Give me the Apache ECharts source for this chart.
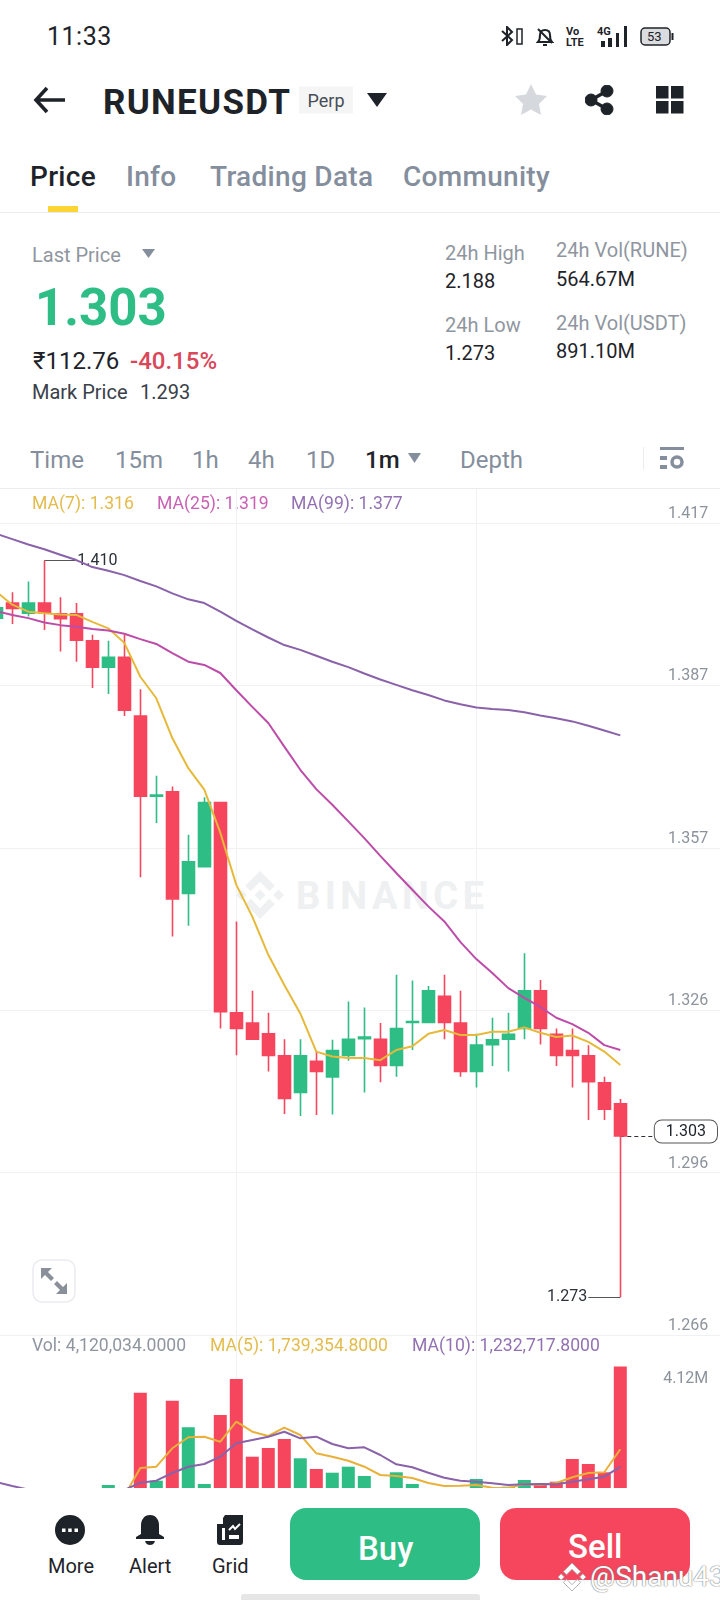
<!DOCTYPE html>
<html>
<head>
<meta charset="utf-8">
<title>RUNEUSDT Perp</title>
<script src="https://cdn.jsdelivr.net/npm/echarts@6/dist/echarts.min.js"></script>
<style>
    html, body { margin: 0; padding: 0; background: #fff; }
    #page { position: relative; width: 720px; height: 1600px; overflow: hidden; background: #fff; font-family: Roboto, "Noto Sans", sans-serif; }
    #chart { position: absolute; left: 0; top: 488px; width: 720px; height: 1000px; z-index: 1; }
    .t { position: absolute; white-space: nowrap; line-height: 1; transform: translateY(-50%); z-index: 3; }
    .grey { color: #8F96A0; }
    .dark { color: #1E2329; }
    .tab { color: #848E9C; font-size: 28px; font-weight: 500; top: 177px; letter-spacing: .3px; }
    .iv { color: #848E9C; font-size: 24px; top: 460px; }
    .stat { font-size: 20px; }
    .foot { font-size: 20px; color: #1E2329; top: 1566px; }
    .btn { position: absolute; top: 1508px; width: 190px; height: 72px; border-radius: 16px; z-index: 3; }
    svg { position: absolute; z-index: 3; }
    .rule { position: absolute; background: #EAECEF; z-index: 3; }
</style>
</head>
<body>
<div id="page">
    <!-- status bar -->
    <span class="t dark" style="left:47px;top:36px;font-size:25px;letter-spacing:.5px">11:33</span>
    <svg style="left:500px;top:26px" width="24" height="20" viewBox="0 0 24 20" fill="none" stroke="#1E2329" stroke-width="2">
        <path d="M2 5l10 9-5 5V1l5 5-10 9"/><rect x="17" y="3" width="5" height="15" stroke-width="1.5"/>
    </svg>
    <svg style="left:536px;top:27px" width="18" height="20" viewBox="0 0 18 20" fill="none" stroke="#1E2329" stroke-width="2">
        <path d="M2 15c2-2 2-4 2-7s2-5 5-5 5 2 5 5 0 5 2 7zM7 18h4M2 2l14 14"/>
    </svg>
    <span class="t dark" style="left:566px;top:31px;font-size:11px;font-weight:700">Vo</span>
    <span class="t dark" style="left:566px;top:42px;font-size:11px;font-weight:700">LTE</span>
    <span class="t dark" style="left:597px;top:31px;font-size:11px;font-weight:700">4G</span>
    <svg style="left:590px;top:26px" width="40" height="21" viewBox="0 0 40 21" fill="#1E2329">
        <rect x="11" y="15" width="4" height="6"/><rect x="18" y="12" width="4" height="9"/><rect x="26" y="7" width="3" height="14"/><rect x="34" y="0" width="3" height="21"/>
    </svg>
    <svg style="left:640px;top:27px" width="34" height="19" viewBox="0 0 34 19">
        <rect x="1" y="1" width="29" height="17" rx="4" fill="#DADCDF" stroke="#1E2329" stroke-width="1.5"/><rect x="31.5" y="6" width="2" height="7" fill="#1E2329"/>
    </svg>
    <span class="t dark" style="left:647px;top:36px;font-size:13px">53</span>

    <!-- title row -->
    <svg style="left:33px;top:86px" width="34" height="28" viewBox="0 0 34 28" fill="none" stroke="#1E2329" stroke-width="3.6">
        <path d="M32 14H3M14 2L3 14l11 12"/>
    </svg>
    <span class="t dark" style="left:103px;top:102px;font-size:35px;font-weight:700;letter-spacing:1.3px">RUNEUSDT</span>
    <span class="t" style="left:299px;top:100px;width:54px;height:27px;background:#F5F5F5;color:#474D57;font-size:18px;line-height:27px;text-align:center">Perp</span>
    <svg style="left:367px;top:93px" width="20" height="14" viewBox="0 0 20 14" fill="#1E2329"><path d="M0 0h20L10 14z"/></svg>
    <svg style="left:515px;top:84px" width="32" height="31" viewBox="0 0 32 31" fill="#D5D9DE"><path d="M16 0l5 10.500 11 1.500-8 8 2 11-10-5.500L6 31l2-11-8-8 11-1.500z"/></svg>
    <svg style="left:585px;top:85px" width="29" height="30" viewBox="0 0 29 30" fill="#1E2329" stroke="#1E2329">
        <circle cx="22" cy="6" r="6"/><circle cx="22" cy="24" r="6"/><circle cx="6" cy="15" r="6"/><path d="M22 6L6 15l16 9" fill="none" stroke-width="3.500"/>
    </svg>
    <svg style="left:656px;top:86px" width="28" height="28" viewBox="0 0 28 28" fill="#1E2329">
        <rect width="12.500" height="12.500"/><rect x="15" width="12.500" height="12.500"/><rect y="15" width="12.500" height="12.500"/><rect x="15" y="15" width="12.500" height="12.500"/>
    </svg>

    <!-- tabs -->
    <span class="t tab" style="left:30px;color:#1E2329">Price</span>
    <span class="t tab" style="left:126px">Info</span>
    <span class="t tab" style="left:210px">Trading Data</span>
    <span class="t tab" style="left:403px">Community</span>
    <div class="rule" style="left:48px;top:206px;width:30px;height:6px;background:#FCD535"></div>
    <div class="rule" style="left:0;top:212px;width:720px;height:1px"></div>

    <!-- price block -->
    <span class="t grey" style="left:32px;top:255px;font-size:20px">Last Price</span>
    <svg style="left:142px;top:249px" width="13" height="9" viewBox="0 0 13 9" fill="#848E9C"><path d="M0 0h13L6.500 9z"/></svg>
    <span class="t" style="left:35px;top:307px;font-size:51px;font-weight:700;color:#2EBD85">1.303</span>
    <span class="t dark" style="left:33px;top:361px;font-size:24px">₹112.76</span>
    <span class="t" style="left:130px;top:361px;font-size:24px;font-weight:500;color:#D9475A">-40.15%</span>
    <span class="t" style="left:32px;top:392px;font-size:20px;color:#3A4049">Mark Price</span>
    <span class="t" style="left:140px;top:392px;font-size:20px;color:#3A4049">1.293</span>

    <span class="t grey stat" style="left:445px;top:253px">24h High</span>
    <span class="t dark stat" style="left:445px;top:281px">2.188</span>
    <span class="t grey stat" style="left:445px;top:325px">24h Low</span>
    <span class="t dark stat" style="left:445px;top:353px">1.273</span>
    <span class="t grey stat" style="left:556px;top:250px">24h Vol(RUNE)</span>
    <span class="t dark stat" style="left:556px;top:279px">564.67M</span>
    <span class="t grey stat" style="left:556px;top:323px">24h Vol(USDT)</span>
    <span class="t dark stat" style="left:556px;top:351px">891.10M</span>

    <!-- interval row -->
    <span class="t iv" style="left:30px">Time</span>
    <span class="t iv" style="left:115px">15m</span>
    <span class="t iv" style="left:192px">1h</span>
    <span class="t iv" style="left:248px">4h</span>
    <span class="t iv" style="left:306px">1D</span>
    <span class="t iv" style="left:365px;color:#1E2329;font-weight:500">1m</span>
    <svg style="left:408px;top:453px" width="13" height="10" viewBox="0 0 13 10" fill="#848E9C"><path d="M0 0h13L6.500 10z"/></svg>
    <span class="t iv" style="left:460px">Depth</span>
    <div class="rule" style="left:643px;top:447px;width:1px;height:23px"></div>
    <svg style="left:660px;top:447px" width="24" height="24" viewBox="0 0 24 24" fill="#848E9C">
        <rect width="24" height="3"/><rect y="9" width="7" height="4"/><rect y="18" width="7" height="4"/>
        <circle cx="17" cy="15" r="5" fill="none" stroke="#848E9C" stroke-width="3.500"/>
    </svg>
    <div class="rule" style="left:0;top:488px;width:720px;height:1px"></div>

    <!-- watermark sits under the transparent chart canvas -->
    <svg style="left:236px;top:871px;z-index:0" width="48" height="48" viewBox="0 0 126.610 126.610" fill="#EEF0F1">
        <path d="M38.730 53.200l24.590-24.580 24.600 24.600 14.300-14.310L63.320 0 24.430 38.900z"/>
        <path d="M0 63.310l14.300-14.310 14.310 14.310-14.310 14.300z"/>
        <path d="M38.730 73.410L63.320 98l24.600-24.600 14.310 14.290-38.900 38.910L24.430 87.700z"/>
        <path d="M98 63.310l14.300-14.310 14.310 14.310-14.310 14.300z"/>
        <path d="M77.830 63.300L63.320 48.780 48.810 63.280l14.510 14.530z"/>
    </svg>
    <span class="t" style="left:296px;top:896px;z-index:0;font-size:38px;font-weight:700;letter-spacing:4.500px;color:#EEF0F1">BINANCE</span>

    <div id="chart"></div>

    <svg style="left:32px;top:1259px" width="44" height="44" viewBox="0 0 44 44" fill="#8A9099">
        <rect x="1" y="1" width="42" height="42" rx="9" fill="#fff" stroke="#EAECEF" stroke-width="1.500"/>
        <path d="M9 9h11l-4 4 6 6-3 3-6-6-4 4z"/><path d="M35 35H24l4-4-6-6 3-3 6 6 4-4z"/>
    </svg>

    <!-- footer -->
    <svg style="left:55px;top:1515px" width="30" height="30" viewBox="0 0 30 30">
        <circle cx="15" cy="15" r="15" fill="#1E2329"/><rect x="7" y="13.500" width="3.500" height="3.500" fill="#fff"/><rect x="13.200" y="13.500" width="3.500" height="3.500" fill="#fff"/><rect x="19.500" y="13.500" width="3.500" height="3.500" fill="#fff"/>
    </svg>
    <span class="t foot" style="left:48px">More</span>
    <svg style="left:136px;top:1515px" width="28" height="30" viewBox="0 0 28 30" fill="#1E2329">
        <path d="M14 0c6 0 9 5 9 10v9l5 3v2H0v-2l5-3v-9C5 5 8 0 14 0z"/><path d="M9 26h10c-1 3-3 4-5 4s-4-1-5-4z"/>
    </svg>
    <span class="t foot" style="left:129px">Alert</span>
    <svg style="left:217px;top:1515px" width="26" height="30" viewBox="0 0 26 30">
        <path d="M8 0h18v27c0 2-1 3-3 3H3c-2 0-3-1-3-3V9h6V3z" fill="#1E2329"/>
        <path d="M12 15l4-4 2 3 5-5" fill="none" stroke="#fff" stroke-width="2"/><rect x="5" y="13" width="3" height="12" fill="#fff"/><rect x="12" y="20" width="10" height="4" fill="#fff"/>
    </svg>
    <span class="t foot" style="left:212px">Grid</span>
    <div class="btn" style="left:290px;background:#2EBD85"></div>
    <div class="btn" style="left:500px;background:#F6465D"></div>
    <span class="t" style="left:358px;top:1548px;font-size:33px;font-weight:500;color:#fff;z-index:4">Buy</span>
    <span class="t" style="left:568px;top:1546px;font-size:33px;font-weight:500;color:#fff;z-index:4">Sell</span>
    <div class="rule" style="left:241px;top:1594px;width:239px;height:6px;background:#E6E6E6;border-radius:3px 3px 0 0"></div>
    <svg style="left:558px;top:1562px;z-index:4" width="28" height="30" viewBox="0 0 126.610 126.610" fill="#fff" stroke="#A9A9A9" stroke-width="4">
        <path d="M38.730 53.200l24.590-24.580 24.600 24.600 14.300-14.310L63.320 0 24.430 38.900z"/>
        <path d="M0 63.310l14.300-14.310 14.310 14.310-14.310 14.300z"/>
        <path d="M38.730 73.410L63.320 98l24.600-24.600 14.310 14.290-38.900 38.910L24.430 87.700z"/>
        <path d="M98 63.310l14.300-14.310 14.310 14.310-14.310 14.300z"/>
    </svg>
    <span class="t" style="left:590px;top:1577px;font-size:28px;color:#fff;z-index:4;text-shadow:0 0 1.500px #777, 0 0 1px #777">@Shanu43</span>
</div>

<script>
// ===== 价格数据 (1m K线) =====
const openPrices = [1.3993, 1.4021, 1.4002, 1.4021, 1.4001, 1.4001, 1.3951, 1.3902, 1.3920, 1.3811,
    1.3662, 1.3670, 1.3481, 1.3531, 1.3650, 1.3259, 1.3240, 1.3220, 1.3179, 1.3111,
    1.3169, 1.3140, 1.3180, 1.3211, 1.3210, 1.3161, 1.3241, 1.3241, 1.3290, 1.3240,
    1.3150, 1.3200, 1.3210, 1.3230, 1.3300, 1.3219, 1.3189, 1.3179, 1.3129, 1.3090];
const closePrices = [1.4012, 1.4011, 1.4021, 1.4003, 1.3992, 1.3952, 1.3902, 1.3920, 1.3822, 1.3662,
    1.3664, 1.3471, 1.3540, 1.3650, 1.3261, 1.3230, 1.3210, 1.3180, 1.3100, 1.3179,
    1.3150, 1.3189, 1.3210, 1.3214, 1.3161, 1.3230, 1.3243, 1.3300, 1.3241, 1.3150,
    1.3199, 1.3209, 1.3219, 1.3300, 1.3230, 1.3180, 1.3180, 1.3131, 1.3080, 1.3030];
const lowPrices = [1.3986, 1.3982, 1.3996, 1.3971, 1.3931, 1.3912, 1.3863, 1.3852, 1.3811, 1.3511,
    1.3612, 1.3401, 1.3421, 1.3531, 1.3230, 1.3180, 1.3210, 1.3150, 1.3071, 1.3067,
    1.3069, 1.3070, 1.3170, 1.3111, 1.3130, 1.3140, 1.3190, 1.3241, 1.3210, 1.3140,
    1.3120, 1.3160, 1.3150, 1.3210, 1.3200, 1.3160, 1.3120, 1.3060, 1.3060, 1.2730];
const highPrices = [1.4036, 1.4041, 1.4061, 1.4100, 1.4032, 1.4021, 1.3962, 1.3951, 1.3962, 1.3861,
    1.3700, 1.3680, 1.3590, 1.3660, 1.3650, 1.3429, 1.3300, 1.3259, 1.3210, 1.3210,
    1.3187, 1.3209, 1.3280, 1.3269, 1.3240, 1.3330, 1.3319, 1.3309, 1.3330, 1.3300,
    1.3220, 1.3250, 1.3259, 1.3370, 1.3320, 1.3230, 1.3230, 1.3199, 1.3140, 1.3099];

const ma7Values = [1.4042, 1.4018, 1.4005, 1.4002, 1.4000, 1.3999, 1.3986, 1.3974, 1.3947, 1.3884,
    1.3844, 1.3770, 1.3714, 1.3674, 1.3594, 1.3497, 1.3438, 1.3367, 1.3311, 1.3258,
    1.3187, 1.3178, 1.3175, 1.3175, 1.3171, 1.3190, 1.3197, 1.3220, 1.3227, 1.3218,
    1.3218, 1.3224, 1.3224, 1.3232, 1.3222, 1.3214, 1.3217, 1.3205, 1.3187, 1.3162];
const ma25Values = [1.4006, 1.3999, 1.3993, 1.3985, 1.3980, 1.3977, 1.3973, 1.3970, 1.3964, 1.3954,
    1.3945, 1.3928, 1.3912, 1.3906, 1.3891, 1.3859, 1.3828, 1.3798, 1.3754, 1.3711,
    1.3675, 1.3646, 1.3615, 1.3584, 1.3551, 1.3519, 1.3488, 1.3457, 1.3429, 1.3391,
    1.3359, 1.3333, 1.3305, 1.3287, 1.3270, 1.3250, 1.3238, 1.3222, 1.3199, 1.3190];
const ma99Values = [1.4150, 1.4140, 1.4130, 1.4121, 1.4111, 1.4101, 1.4088, 1.4081, 1.4073, 1.4062,
    1.4052, 1.4039, 1.4028, 1.4021, 1.4005, 1.3988, 1.3972, 1.3957, 1.3943, 1.3934,
    1.3923, 1.3912, 1.3902, 1.3890, 1.3879, 1.3869, 1.3859, 1.3850, 1.3840, 1.3833,
    1.3827, 1.3824, 1.3822, 1.3818, 1.3812, 1.3807, 1.3801, 1.3793, 1.3784, 1.3775];

// ===== 成交量 =====
const volumes = [300000, 320000, 280000, 260000, 240000, 260000, 300000, 709000, 400000, 3368000,
    833000, 3138000, 2371000, 738000, 2726000, 3763000, 1524000, 1775000, 2034000, 1478000,
    1170000, 1063000, 1236000, 968000, 480000, 1075000, 738000, 400000, 350000, 450000,
    882000, 500000, 660000, 853000, 717000, 804000, 1458000, 1314000, 1075000, 4120034];
const volMa5Values = [250000, 230000, 230000, 240000, 240000, 260000, 280000, 320000, 392000, 1199000,
    1236000, 1766000, 2083000, 2100000, 1956000, 2533000, 2244000, 2120000, 2360000, 2149000,
    1622000, 1524000, 1409000, 1236000, 997000, 968000, 910000, 766000, 680000, 689000,
    709000, 631000, 622000, 738000, 709000, 766000, 931000, 1054000, 1075000, 1739355];
const volMa10Values = [795000, 680000, 576000, 500000, 460000, 430000, 410000, 430000, 565000, 775000,
    833000, 1054000, 1236000, 1314000, 1524000, 1910000, 2005000, 2100000, 2244000, 2054000,
    2100000, 1890000, 1766000, 1795000, 1573000, 1305000, 1219000, 1063000, 919000, 833000,
    804000, 758000, 709000, 729000, 738000, 729000, 804000, 873000, 948000, 1232718];

// ===== 坐标轴 =====
const priceTicks = [1.266, 1.2962, 1.3264, 1.3566, 1.3868, 1.417];
const volumeTicks = [4120034];
const timeGridSlots = [15, 30];     // 竖向网格线所在K线
const lastPrice = 1.303;
const highMark = 1.41;
const lowMark = 1.273;

const RED = '#F6465D';
const GREEN = '#2EBD85';
const YELLOW = '#E6B93A';
const PINK = '#BD4CA9';
const PURPLE = '#8A62A9';
const GRID_LINE = '#EFF1F3';
const FONT = 'Roboto, "Noto Sans", sans-serif';

const slots = Array.from({ length: 46 }, (_, i) => String(i));
const candleData = openPrices.map((o, i) => [o, closePrices[i], lowPrices[i], highPrices[i]]);

function legendText(text, left, top, fill) {
    return {
        type: 'text', left, top, silent: true,
        style: { text, fill, font: `17.600px ${FONT}` },
    };
}

function maLine(name, values, color, axisIndex) {
    return {
        name, type: 'line', data: values,
        xAxisIndex: axisIndex, yAxisIndex: axisIndex,
        symbol: 'none', smooth: false,
        lineStyle: { color, width: 2 },
    };
}

function valueMark(value, fromSlot, toSlot) {
    return [{
        coord: [fromSlot, value],
    }, {
        coord: [toSlot, value],
    }];
}

const gridLineMarks = timeGridSlots.map(slot => ({
    xAxis: slot,
    label: { show: false },
    lineStyle: { color: GRID_LINE, width: 1, type: 'solid' },
}));

const chart = echarts.init(document.getElementById('chart'), null, { renderer: 'canvas' });

chart.setOption({
    animation: false,
    backgroundColor: 'transparent',
    graphic: [
        legendText('MA(7): 1.316', 32, 8, '#E3BC4E'),
        legendText('MA(25): 1.319', 157, 8, '#C962B4'),
        legendText('MA(99): 1.377', 291, 8, '#9372B3'),
        legendText('Vol: 4,120,034.0000', 32, 850, '#8F96A0'),
        legendText('MA(5): 1,739,354.8000', 210, 850, '#E3BC4E'),
        legendText('MA(10): 1,232,717.8000', 412, 850, '#9372B3'),
    ],
    // 网格超出画布：右侧和底部由页面裁切
    grid: [
        { left: -11.7, top: 0, width: 736, height: 847, outerBoundsMode: 'none' },
        { left: -11.7, top: 847, width: 736, height: 174.6, outerBoundsMode: 'none' },
    ],
    xAxis: [
        { type: 'category', gridIndex: 0, data: slots, show: false },
        { type: 'category', gridIndex: 1, data: slots, show: false },
    ],
    yAxis: [
        {
            type: 'value', gridIndex: 0, position: 'right',
            min: 1.266, max: 1.4235,
            axisLine: { show: false },
            axisTick: { show: false, customValues: priceTicks },
            splitLine: { show: true, lineStyle: { color: GRID_LINE, width: 1 } },
            axisLabel: {
                inside: true, margin: 16, customValues: priceTicks,
                formatter: v => v.toFixed(3),
                color: '#8C939C', fontSize: 16, fontFamily: FONT,
                verticalAlign: 'bottom', lineHeight: 18,
            },
        },
        {
            type: 'value', gridIndex: 1, position: 'right',
            min: 0, max: 5030000,
            axisLine: { show: false },
            axisTick: { show: false, customValues: volumeTicks },
            splitLine: { show: false },
            axisLabel: {
                inside: true, margin: 16, customValues: volumeTicks,
                formatter: v => (v / 1000000).toFixed(2) + 'M',
                color: '#8C939C', fontSize: 16, fontFamily: FONT,
                verticalAlign: 'top', padding: [4, 0, 0, 0],
            },
        },
    ],
    series: [
        {
            name: 'RUNEUSDT', type: 'candlestick',
            xAxisIndex: 0, yAxisIndex: 0,
            data: candleData,
            barWidth: 13,
            itemStyle: {
                color: GREEN, color0: RED,
                borderColor: GREEN, borderColor0: RED,
                borderWidth: 1.6,
            },
            markLine: {
                z: 1, silent: true, symbol: 'none',
                lineStyle: { color: '#555', width: 1, type: 'solid' },
                label: { color: '#2B3139', fontSize: 16, fontFamily: FONT, position: 'end', distance: 1 },
                data: [
                    ...gridLineMarks,
                    valueMark(highMark, 3, 5).map((p, i) => i ? { ...p, label: { formatter: highMark.toFixed(3) } } : p),
                    valueMark(lowMark, 39, 37).map((p, i) => i ? { ...p, label: { formatter: lowMark.toFixed(3) } } : p),
                    valueMark(lastPrice, 39, 41).map((p, i) => ({
                        ...p,
                        label: { show: false },
                        lineStyle: { color: '#2B3139', width: 1, type: [4, 3] },
                    })),
                ],
            },
            markPoint: {
                silent: true, symbol: 'circle', symbolSize: 1,
                itemStyle: { color: 'transparent' },
                data: [{
                    coord: [41, lastPrice],
                    label: {
                        show: true, position: 'right', distance: 2, offset: [0, -4.5],
                        formatter: lastPrice.toFixed(3),
                        color: '#1E2329', fontSize: 16, fontFamily: FONT,
                        backgroundColor: '#fff', borderColor: '#555', borderWidth: 1, borderRadius: 7,
                        padding: [3, 11],
                    },
                }],
            },
        },
        maLine('MA7', ma7Values, YELLOW, 0),
        maLine('MA25', ma25Values, PINK, 0),
        maLine('MA99', ma99Values, PURPLE, 0),
        {
            name: 'Vol', type: 'bar',
            xAxisIndex: 1, yAxisIndex: 1,
            data: volumes,
            barWidth: 13,
            itemStyle: {
                color: p => (closePrices[p.dataIndex] >= openPrices[p.dataIndex] ? GREEN : RED),
            },
            markLine: {
                z: 1, silent: true, symbol: 'none',
                data: gridLineMarks,
            },
        },
        maLine('VolMA5', volMa5Values, '#E9B13A', 1),
        maLine('VolMA10', volMa10Values, PURPLE, 1),
    ],
});
</script>
</body>
</html>
